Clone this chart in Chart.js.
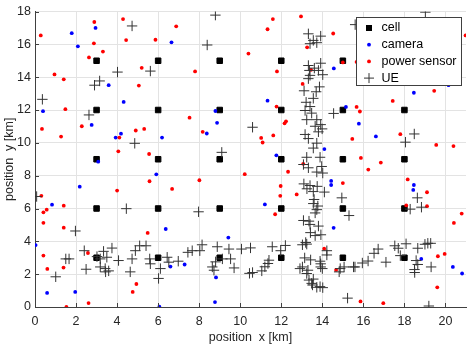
<!DOCTYPE html>
<html>
<head>
<meta charset="utf-8">
<script src="https://cdn.jsdelivr.net/npm/chart.js@4.4.1/dist/chart.umd.min.js"></script>
<style>
    html, body { margin: 0; padding: 0; background: #fff; }
    #wrap { width: 474px; height: 348px; }
</style>
</head>
<body>
<div id="wrap"><canvas id="chart" width="474" height="348"></canvas></div>
<script>
const X_TICKS = [0, 2, 4, 6, 8, 10, 12, 14, 16, 18, 20];
const Y_TICKS = [0, 2, 4, 6, 8, 10, 12, 14, 16, 18];

const CELL_X = [3, 6, 9, 12, 15, 18];
const CELL_Y = [3, 6, 9, 12, 15];

const CAMERA_POINTS = [
    [1.79, 16.68], [2.95, 17.0], [2.09, 15.88], [6.65, 16.12], [3.59, 13.51], [0.39, 11.93],
    [4.32, 12.49], [2.76, 11.09], [4.19, 10.56], [3.93, 10.32], [6.19, 10.32], [3.08, 8.85],
    [5.91, 8.08], [8.79, 11.94], [8.87, 11.22], [8.37, 10.57],
    [14.56, 14.53], [11.33, 12.57], [15.15, 12.19], [15.78, 11.17], [18.46, 13.05], [20.15, 13.51],
    [16.61, 10.39], [14.1, 9.62], [11.76, 9.24], [14.43, 7.68],
    [0.03, 3.77], [0.83, 6.23], [2.18, 7.33], [0.59, 0.86], [1.96, 0.92], [6.37, 4.75],
    [6.6, 2.46], [7.29, 2.59], [6.06, 0.02], [9.42, 4.23], [8.82, 1.8], [8.77, 0.3],
    [11.2, 6.25], [14.43, 7.43], [18.46, 7.43], [18.43, 7.13], [14.55, 4.82], [18.82, 2.93],
    [20.36, 2.44], [20.81, 2.04]
];

const POWER_POINTS = [
    [0.28, 16.54], [2.89, 17.36], [4.29, 17.54], [2.87, 16.06], [4.44, 16.26], [5.87, 16.28],
    [6.88, 17.1], [3.31, 15.56], [2.63, 15.2], [0.95, 14.17], [1.4, 13.87], [5.2, 14.57],
    [7.8, 14.35], [5.06, 13.49], [1.48, 12.05], [0.34, 10.85], [1.27, 10.38], [2.28, 11.01],
    [7.53, 11.53], [4.91, 10.75], [5.32, 10.85], [4.11, 10.32], [4.06, 9.48], [5.56, 9.32],
    [8.17, 10.67], [5.58, 7.66], [8.01, 7.72], [4.0, 7.09], [6.68, 7.19],
    [11.59, 17.54], [12.96, 17.7], [11.33, 16.92], [14.53, 16.66], [10.4, 15.44], [11.79, 14.35],
    [13.45, 14.45], [13.04, 13.59], [15.67, 14.93], [15.0, 14.9], [20.98, 16.54], [19.45, 13.17],
    [17.43, 12.55], [11.77, 12.21], [15.67, 12.19], [15.83, 11.91], [12.23, 11.31], [12.16, 11.19],
    [11.61, 10.45], [11.02, 10.3], [11.09, 10.02], [15.46, 10.24], [17.8, 10.53], [19.55, 9.87],
    [20.39, 9.8], [15.88, 9.08], [16.85, 8.8], [16.24, 8.37], [12.33, 8.24], [10.22, 8.09],
    [18.16, 7.77], [13.26, 15.82],
    [0.31, 6.77], [0.41, 5.77], [0.57, 5.93], [0.41, 5.13], [1.4, 6.17], [1.4, 4.83],
    [0.41, 3.13], [0.6, 2.32], [1.39, 2.4], [2.58, 3.29], [1.53, 0.0], [2.61, 0.24],
    [5.49, 4.51], [4.94, 1.4], [4.76, 0.92], [11.97, 7.37], [11.95, 6.77], [12.75, 6.86],
    [11.7, 5.65], [15.0, 7.55], [19.1, 6.99], [19.1, 6.14], [18.09, 6.19], [20.79, 5.69],
    [20.41, 5.12], [14.09, 3.55], [14.67, 2.26], [19.63, 3.09], [19.96, 3.23], [19.6, 1.2],
    [15.86, 0.34], [16.97, 0.23], [13.07, 8.72]
];

const UE_POINTS = [
    [0.36, 12.65], [2.63, 11.7], [2.9, 13.51], [3.15, 13.77], [4.02, 14.31], [4.73, 17.12],
    [5.62, 14.37], [4.86, 9.97], [8.79, 17.78], [8.39, 15.96], [9.1, 9.42], [10.6, 10.95],
    [19.02, 17.96], [14.55, 11.79], [18.48, 10.54], [18.05, 10.04], [15.6, 17.2],
    [13.32, 16.64], [13.92, 16.5], [13.56, 16.24], [13.73, 16.1], [13.4, 16.04], [13.32, 14.71],
    [13.92, 14.85], [13.61, 14.55], [13.37, 14.41], [13.81, 14.41], [13.4, 14.11], [14.02, 14.15],
    [13.32, 13.91], [13.86, 13.41], [13.11, 13.17], [13.7, 13.11], [13.56, 12.71], [13.21, 12.47],
    [13.4, 12.21], [13.16, 11.97], [13.48, 11.81], [13.73, 11.41], [13.24, 11.41], [13.92, 11.11],
    [13.65, 11.01], [13.99, 10.85], [13.81, 10.67], [13.16, 10.51], [13.32, 10.26], [13.73, 9.98],
    [13.56, 9.68], [13.24, 9.12], [13.89, 9.12],
    [13.08, 8.68], [13.32, 8.48], [13.97, 8.56], [13.73, 8.22], [14.02, 8.16], [13.1, 7.5],
    [13.4, 7.4], [13.75, 7.35], [13.25, 7.2], [14.1, 7.0], [13.56, 7.03], [13.6, 6.55],
    [13.56, 6.3], [13.78, 6.15], [13.73, 5.93], [13.65, 5.73], [13.08, 5.27], [13.35, 5.23],
    [13.4, 5.03], [13.81, 4.93], [13.42, 4.53], [13.65, 4.35], [13.93, 4.4],
    [14.95, 6.65], [15.3, 5.57], [18.63, 6.65], [18.28, 5.96], [18.83, 6.08],
    [0.08, 6.73], [4.45, 5.99], [7.97, 5.8], [1.97, 4.63],
    [1.5, 2.93], [1.66, 2.93], [1.01, 1.84], [2.49, 2.3], [2.4, 3.43], [3.02, 3.07],
    [3.18, 2.93], [3.18, 2.44], [3.34, 3.39], [3.5, 3.03], [3.42, 2.34], [3.59, 2.2],
    [3.44, 2.14], [3.75, 3.59], [4.07, 2.83], [4.64, 2.14], [4.73, 2.93], [4.89, 3.43],
    [5.1, 3.73], [5.41, 3.73], [5.59, 2.93], [5.62, 2.63], [6.02, 1.74], [6.11, 2.34],
    [6.44, 3.03], [6.52, 2.73], [6.98, 2.79], [7.45, 3.33], [7.66, 3.43], [8.03, 3.43],
    [8.14, 3.79], [8.64, 2.44], [8.72, 2.24], [8.8, 2.75], [8.88, 3.67], [9.13, 2.93],
    [9.45, 3.53], [9.53, 2.93], [9.7, 2.38],
    [10.06, 3.53], [10.5, 3.6], [10.45, 2.05], [10.6, 2.1], [11.05, 2.2], [11.2, 2.45],
    [11.35, 2.65], [11.4, 2.85], [11.56, 3.67], [11.97, 3.43], [12.2, 3.75],
    [13.03, 3.79], [13.24, 3.83], [13.19, 3.93], [13.14, 2.99], [13.43, 2.87], [13.92, 2.44],
    [14.0, 2.34], [13.03, 2.44], [13.3, 2.24], [13.35, 1.64], [13.52, 1.34], [13.73, 1.2],
    [13.89, 1.24], [12.91, 2.34], [13.24, 2.04], [13.56, 1.7], [13.48, 1.44], [14.02, 1.18],
    [13.92, 2.63], [14.22, 3.17], [14.22, 3.43], [13.89, 2.79], [14.87, 2.34], [14.82, 2.14],
    [15.06, 2.44], [15.52, 2.44], [15.23, 0.54],
    [16.72, 3.53], [16.52, 3.27], [16.23, 2.8], [15.95, 2.68], [15.59, 2.44], [17.1, 2.73],
    [17.53, 3.73], [17.7, 3.58], [18.08, 3.85], [18.65, 3.58], [19.0, 3.82], [19.14, 3.88],
    [19.28, 3.88], [18.57, 2.83], [18.65, 2.59], [18.49, 2.28], [18.5, 2.1], [19.3, 2.44],
    [17.8, 3.13], [19.19, 0.06]
];

const FONT = { family: '"Liberation Sans", Arial, Helvetica, sans-serif', size: 12.5 };
const AXIS_COLOR = '#404040';
const TEXT_COLOR = '#262626';
const GRID_COLOR = '#e3e3e3';

const toXY = list => list.map(([x, y]) => ({ x, y }));
const cellPoints = CELL_Y.flatMap(y => CELL_X.map(x => ({ x, y })));

// MATLAB-style tick marks pointing into the plot
const innerTicks = {
    id: 'innerTicks',
    afterDraw(chart) {
        const { ctx, chartArea: a, scales: { x, y } } = chart;
        ctx.save();
        ctx.strokeStyle = AXIS_COLOR;
        ctx.lineWidth = 1;
        ctx.beginPath();
        X_TICKS.forEach(v => {
            const px = Math.round(x.getPixelForValue(v)) + 0.5;
            ctx.moveTo(px, a.bottom);
            ctx.lineTo(px, a.bottom - 4);
        });
        Y_TICKS.forEach(v => {
            const py = Math.round(y.getPixelForValue(v)) + 0.5;
            ctx.moveTo(a.left, py);
            ctx.lineTo(a.left + 4, py);
        });
        ctx.stroke();
        ctx.restore();
    }
};

// legend box drawn inside the axes, top-right, like MATLAB's 'NorthEast'
const insideLegend = {
    id: 'insideLegend',
    afterDraw(chart) {
        const { ctx, chartArea: a } = chart;
        const left = Math.round(a.right - 110) + 0.5;
        const top = Math.round(a.top + 5) + 0.5;
        const w = 105, h = 68;
        ctx.save();
        ctx.fillStyle = '#fff';
        ctx.fillRect(left, top, w, h);
        ctx.strokeStyle = AXIS_COLOR;
        ctx.lineWidth = 1;
        ctx.strokeRect(left, top, w, h);

        ctx.font = `${FONT.size}px ${FONT.family}`;
        ctx.textBaseline = 'middle';
        chart.data.datasets.forEach((ds, i) => {
            const cy = top + 10.5 + i * 16.7;
            const mx = left + 12.5;
            if (ds.pointStyle === 'rect') {
                ctx.fillStyle = ds.backgroundColor;
                ctx.fillRect(mx - 3, cy - 3, 6, 6);
            } else if (ds.pointStyle === 'circle') {
                ctx.fillStyle = ds.backgroundColor;
                ctx.beginPath();
                ctx.arc(mx, cy, 1.9, 0, Math.PI * 2);
                ctx.fill();
            } else {
                ctx.strokeStyle = ds.borderColor;
                ctx.beginPath();
                ctx.moveTo(mx - 5, cy);
                ctx.lineTo(mx + 5, cy);
                ctx.moveTo(mx, cy - 5);
                ctx.lineTo(mx, cy + 5);
                ctx.stroke();
            }
            ctx.fillStyle = '#000';
            ctx.fillText(ds.label, left + 25, cy);
        });
        ctx.restore();
    }
};

new Chart(document.getElementById('chart'), {
    type: 'scatter',
    data: {
        datasets: [{
            label: 'cell',
            data: cellPoints,
            pointStyle: 'rect',
            pointRadius: 3.9,
            backgroundColor: '#000',
            borderColor: '#000',
            borderWidth: 1,
            order: 4
        }, {
            label: 'camera',
            data: toXY(CAMERA_POINTS),
            pointStyle: 'circle',
            pointRadius: 1.9,
            backgroundColor: '#0000ff',
            borderWidth: 0,
            order: 3
        }, {
            label: 'power sensor',
            data: toXY(POWER_POINTS),
            pointStyle: 'circle',
            pointRadius: 1.9,
            backgroundColor: '#ff0000',
            borderWidth: 0,
            order: 2
        }, {
            label: 'UE',
            data: toXY(UE_POINTS),
            pointStyle: 'cross',
            pointRadius: 5.2,
            borderColor: '#333333',
            borderWidth: 1,
            order: 1
        }]
    },
    options: {
        responsive: false,
        animation: false,
        devicePixelRatio: 1,
        layout: { padding: { top: 7, right: 8, left: 0, bottom: 0 } },
        plugins: {
            legend: { display: false },
            tooltip: { enabled: false }
        },
        scales: {
            x: {
                type: 'linear',
                min: 0,
                max: 21,
                afterBuildTicks: s => { s.ticks = X_TICKS.map(v => ({ value: v })); },
                afterFit: s => { s.height = 41; },
                ticks: { padding: 7, color: TEXT_COLOR, font: FONT },
                grid: { color: GRID_COLOR, drawTicks: false },
                border: { color: AXIS_COLOR },
                title: {
                    display: true,
                    text: 'position  x [km]',
                    color: TEXT_COLOR,
                    font: FONT,
                    padding: { top: 0, bottom: 3 }
                }
            },
            y: {
                type: 'linear',
                min: 0,
                max: 18,
                afterBuildTicks: s => { s.ticks = Y_TICKS.map(v => ({ value: v })); },
                afterFit: s => { s.width = 35; },
                ticks: { padding: 4, color: TEXT_COLOR, font: FONT },
                grid: { color: GRID_COLOR, drawTicks: false },
                border: { color: AXIS_COLOR },
                title: {
                    display: true,
                    text: 'position  y [km]',
                    color: TEXT_COLOR,
                    font: FONT,
                    padding: { top: 2, bottom: 0 }
                }
            }
        }
    },
    plugins: [innerTicks, insideLegend]
});
</script>
</body>
</html>
